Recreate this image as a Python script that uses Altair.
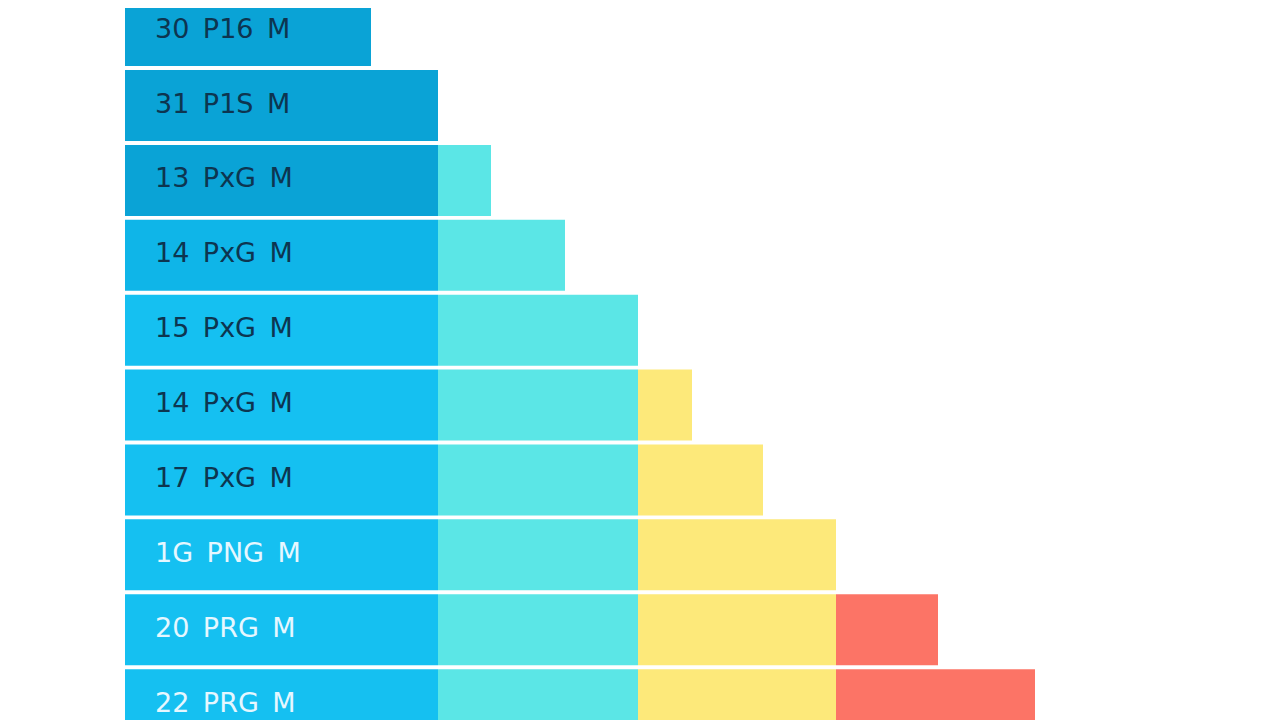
import altair as alt
import pandas as pd

# ---- data ----
labels = ["30\u2002P16\u2002M", "31\u2002P1S\u2002M", "13\u2002PxG\u2002M", "14\u2002PxG\u2002M",
          "15\u2002PxG\u2002M", "14\u2002PxG\u2002M", "17\u2002PxG\u2002M", "1G\u2002PNG\u2002M",
          "20\u2002PRG\u2002M", "22\u2002PRG\u2002M"]
blue = [24.6, 31.3, 31.3, 31.3, 31.3, 31.3, 31.3, 31.3, 31.3, 31.3]
cyan = [0, 0, 5.3, 12.7, 20.0, 20.0, 20.0, 20.0, 20.0, 20.0]
yellow = [0, 0, 0, 0, 0, 5.4, 12.5, 19.8, 19.8, 19.8]
red = [0, 0, 0, 0, 0, 0, 0, 0, 10.2, 19.9]
blue_shade = ["blue_dark", "blue_dark", "blue_dark", "blue_mid", "blue_light",
              "blue_light", "blue_light", "blue_light", "blue_light", "blue_light"]
text_tone = ["text_dark"] * 7 + ["text_light"] * 3

color_domain = ["blue_dark", "blue_mid", "blue_light", "cyan", "yellow", "red", "text_dark", "text_light"]
color_range = ["#0aa3d6", "#0fb5e8", "#15c0f1", "#5be6e6", "#fde97a", "#fc7466", "#0d3550", "#e6f7ff"]

records = []
for i in range(len(labels)):
    segs = [(blue_shade[i], blue[i]), ("cyan", cyan[i]), ("yellow", yellow[i]), ("red", red[i])]
    for order, (key, val) in enumerate(segs):
        if val > 0:
            records.append({"row": i, "order": order, "key": key, "value": val})
bars_df = pd.DataFrame(records)
labels_df = pd.DataFrame({"row": list(range(len(labels))), "label": labels, "key": text_tone})

yscale = alt.Scale(domain=[-0.302, 9.205], reverse=True, nice=False, zero=False)
xscale = alt.Scale(domain=[0, 110], nice=False, zero=False)
cscale = alt.Scale(domain=color_domain, range=color_range)

bars = alt.Chart(bars_df).transform_window(
    end="sum(value)", groupby=["row"], sort=[alt.SortField("order")], frame=[None, 0]
).transform_calculate(
    start="datum.end - datum.value",
    y0="datum.row - 0.474",
    y1="datum.row + 0.474",
).mark_bar(clip=True, cornerRadius=0).encode(
    x=alt.X("start:Q", scale=xscale, axis=None),
    x2="end:Q",
    y=alt.Y("y0:Q", scale=yscale, axis=None),
    y2="y1:Q",
    color=alt.Color("key:N", scale=cscale, legend=None),
)

text = alt.Chart(labels_df).mark_text(
    align="left", baseline="middle", font="DejaVu Sans", fontSize=27, dy=-1, clip=True
).encode(
    x=alt.value(30),
    y=alt.Y("row:Q", scale=yscale, axis=None),
    text="label:N",
    color=alt.Color("key:N", scale=cscale, legend=None),
)

chart = alt.layer(bars, text).properties(
    width=1100, height=712,
    padding={"left": 117, "top": 0, "right": 0, "bottom": 0},
    autosize=alt.AutoSizeParams(type="none"),
    background="white",
).configure_view(stroke=None)

chart.save("out.html", embed_options={"renderer": "svg", "actions": False})
